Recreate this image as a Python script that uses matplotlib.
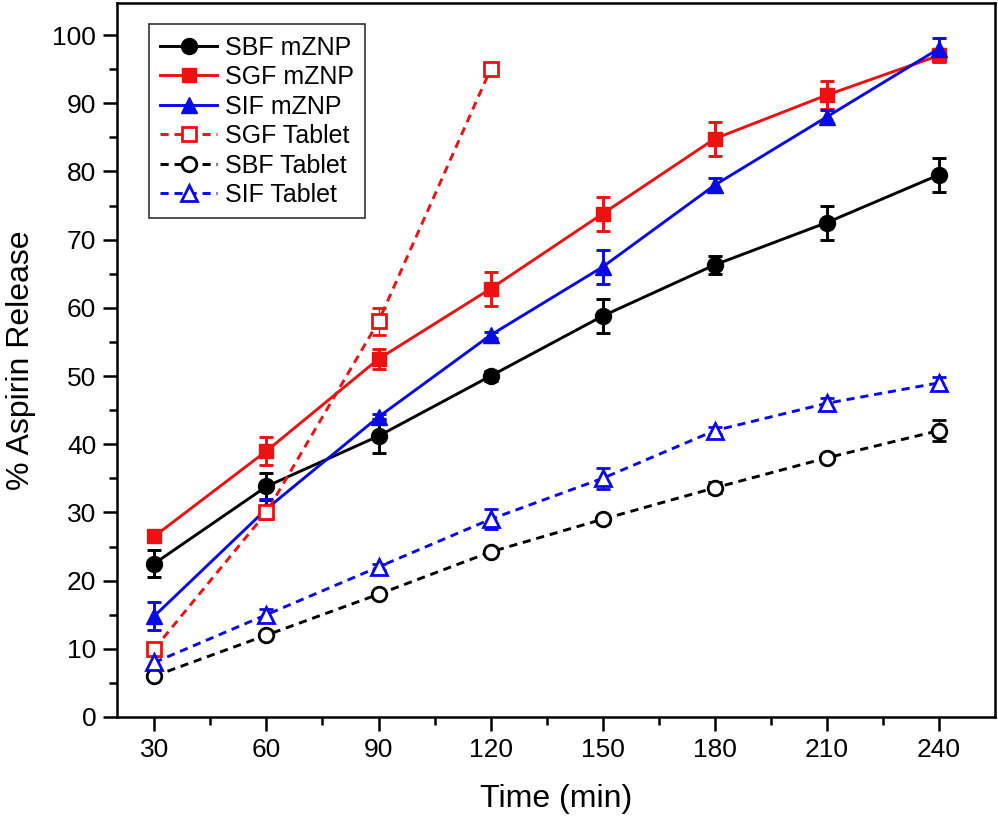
import numpy as np
import matplotlib.pyplot as plt

plt.rcParams['font.family'] = ['Liberation Sans', 'DejaVu Sans']

# Data
time = [30, 60, 90, 120, 150, 180, 210, 240]
time_sgf_tab = [30, 60, 90, 120]

sbf_mznp = [22.5, 33.8, 41.2, 50.0, 58.8, 66.3, 72.5, 79.5]
sbf_mznp_err = [2.0, 2.0, 2.5, 0.8, 2.5, 1.3, 2.5, 2.5]

sgf_mznp = [26.5, 39.0, 52.5, 62.8, 73.8, 84.8, 91.2, 97.0]
sgf_mznp_err = [0.5, 2.0, 1.5, 2.5, 2.5, 2.5, 2.0, 1.0]

sif_mznp = [14.8, 30.5, 44.0, 56.0, 66.0, 78.0, 88.0, 98.0]
sif_mznp_err = [2.0, 1.5, 0.5, 0.5, 2.5, 1.0, 1.0, 1.5]

sgf_tab = [10.0, 30.0, 58.0, 95.0]
sgf_tab_err = [0.5, 1.0, 2.0, 0.5]

sbf_tab = [6.0, 12.0, 18.0, 24.2, 29.0, 33.6, 38.0, 42.0]
sbf_tab_err = [0.3, 0.3, 0.3, 0.5, 0.5, 0.8, 0.5, 1.5]

sif_tab = [8.0, 15.0, 22.0, 29.0, 35.0, 42.0, 46.0, 49.0]
sif_tab_err = [1.0, 0.8, 0.5, 1.5, 1.5, 0.5, 0.8, 0.8]

fig = plt.figure(figsize=(9.98, 8.23), dpi=100)
ax = fig.add_axes([0.1172, 0.1288, 0.8798, 0.8676])

lw = 2.1
cap = 5
dash = (2.8, 2.0)
red = '#ee1111'
blue = '#0a0ae6'

conts = []
conts.append(ax.errorbar(time, sbf_mznp, yerr=sbf_mznp_err, color='black', marker='o', ms=11.5,
                         lw=lw, capsize=cap, capthick=lw, elinewidth=lw))
conts.append(ax.errorbar(time, sgf_mznp, yerr=sgf_mznp_err, color=red, marker='s', ms=10.5,
                         lw=lw, capsize=cap, capthick=lw, elinewidth=lw))
conts.append(ax.errorbar(time, sif_mznp, yerr=sif_mznp_err, color=blue, marker='^', ms=12,
                         lw=lw, capsize=cap, capthick=lw, elinewidth=lw))
conts.append(ax.errorbar(time_sgf_tab, sgf_tab, yerr=sgf_tab_err, color=red, marker='s', ms=10.5,
                         mfc='white', mew=2, lw=lw, ls=(0, dash), capsize=cap, capthick=1,
                         elinewidth=1))
conts.append(ax.errorbar(time, sbf_tab, yerr=sbf_tab_err, color='black', marker='o', ms=10.5,
                         mfc='white', mew=2, lw=lw, ls=(0, dash), capsize=cap, capthick=1,
                         elinewidth=1))
conts.append(ax.errorbar(time, sif_tab, yerr=sif_tab_err, color=blue, marker='^', ms=12,
                         mfc='white', mew=2, lw=lw, ls=(0, dash), capsize=cap, capthick=1,
                         elinewidth=1))
labels = ['SBF mZNP', 'SGF mZNP', 'SIF mZNP', 'SGF Tablet', 'SBF Tablet', 'SIF Tablet']

ax.set_xlim(20, 255)
ax.set_ylim(0, 104.7)
ax.set_xticks(time)
ax.set_xticks(np.arange(45, 255, 30), minor=True)
ax.set_yticks(np.arange(0, 101, 10))
ax.set_yticks(np.arange(5, 101, 10), minor=True)
ax.tick_params(which='major', direction='out', length=10, width=1.8, labelsize=19, pad=5)
ax.tick_params(which='minor', direction='out', length=6, width=1.8)
for s in ax.spines.values():
    s.set_linewidth(1.8)

ax.set_xlabel('Time (min)', fontsize=23, labelpad=16)
ax.set_ylabel('% Aspirin Release', fontsize=23, labelpad=12)

leg = ax.legend([c.lines[0] for c in conts], labels, loc='upper left',
                bbox_to_anchor=(0.036, 0.97), borderaxespad=0,
                fontsize=18, frameon=True, fancybox=False, edgecolor='black',
                handlelength=2.3, labelspacing=0.22, handletextpad=0.3,
                borderpad=0.45)
leg.get_frame().set_linewidth(1.2)

fig.savefig('out.png', dpi=100)
